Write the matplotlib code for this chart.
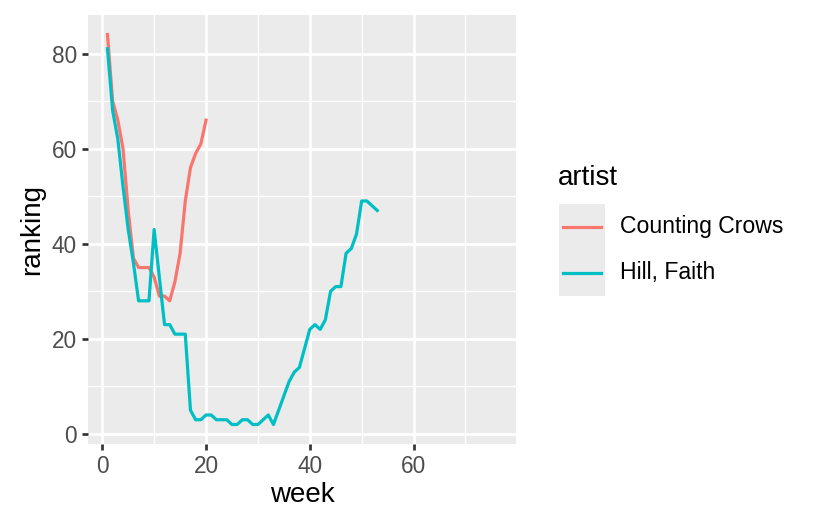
import matplotlib
matplotlib.use("Agg")
import matplotlib.pyplot as plt
from matplotlib.lines import Line2D
from matplotlib.patches import Rectangle

plt.rcParams['font.family'] = ['Liberation Sans', 'DejaVu Sans']

# billboard weekly ranking, two artists
crows_week = list(range(1, 21))
crows_rank = [84, 70, 66, 60, 47, 37, 35, 35, 35, 33,
              29, 29, 28, 32, 38, 49, 56, 59, 61, 66]

hill_week = list(range(1, 54))
hill_rank = [81, 68, 62, 52, 43, 36, 28, 28, 28, 43,
             33, 23, 23, 21, 21, 21, 5, 3, 3, 4,
             4, 3, 3, 3, 2, 2, 3, 3, 2, 2,
             3, 4, 2, 5, 8, 11, 13, 14, 18, 22,
             23, 22, 24, 30, 31, 31, 38, 39, 42, 49,
             49, 48, 47]

artists = ['Counting Crows', 'Hill, Faith']
colors = ['#F8766D', '#00BFC4']
week_range = (1, 76)  # chart has columns up to week 76

W, H = 816, 528
fig = plt.figure(figsize=(W / 100, H / 100), dpi=100)
ax = fig.add_axes([88 / W, 1 - 444 / H, (516 - 88) / W, (444 - 15) / H])

ax.set_facecolor('#EBEBEB')
for s in ax.spines.values():
    s.set_visible(False)

lw = 2.3
ax.plot(crows_week, crows_rank, color=colors[0], lw=lw, solid_joinstyle='round', zorder=3)
ax.plot(hill_week, hill_rank, color=colors[1], lw=lw, solid_joinstyle='round', zorder=3)

# ggplot style 5% expansion
lo, hi = week_range
pad = (hi - lo) * 0.05
ax.set_xlim(lo - pad, hi + pad)
ymin = min(min(crows_rank), min(hill_rank))
ymax = max(max(crows_rank), max(hill_rank))
ypad = (ymax - ymin) * 0.05
ax.set_ylim(ymin - ypad, ymax + ypad)

ax.set_xticks([0, 20, 40, 60])
ax.set_yticks([0, 20, 40, 60, 80])
ax.set_xticks([10, 30, 50, 70], minor=True)
ax.set_yticks([10, 30, 50, 70], minor=True)
ax.grid(which='major', color='white', lw=1.95)
ax.grid(which='minor', color='white', lw=0.95)
ax.set_axisbelow(True)
ax.tick_params(which='major', length=4.5, width=1.95, color='#333333',
               labelcolor='#4D4D4D', labelsize=16.3, pad=3.5)
ax.tick_params(which='minor', length=0)

ax.set_xlabel('week', fontsize=20, labelpad=3)
ax.set_ylabel('ranking', fontsize=20, labelpad=5)

# legend drawn by hand in ggplot layout
fig.text(558 / W, 1 - 178 / H, 'artist', fontsize=20, ha='left', va='center')
fig.add_artist(Rectangle((559 / W, 1 - 296 / H), 46 / W, 92 / H,
                         transform=fig.transFigure, facecolor='#EBEBEB', edgecolor='none'))
for i, (name, c) in enumerate(zip(artists, colors)):
    yk = 1 - (227 + 46 * i) / H
    fig.add_artist(Line2D([563 / W, 601 / W], [yk, yk], color=c, lw=lw,
                          transform=fig.transFigure))
    fig.text(620 / W, yk, name, fontsize=16.6, ha='left', va='center')

fig.savefig('out.png', dpi=100)
